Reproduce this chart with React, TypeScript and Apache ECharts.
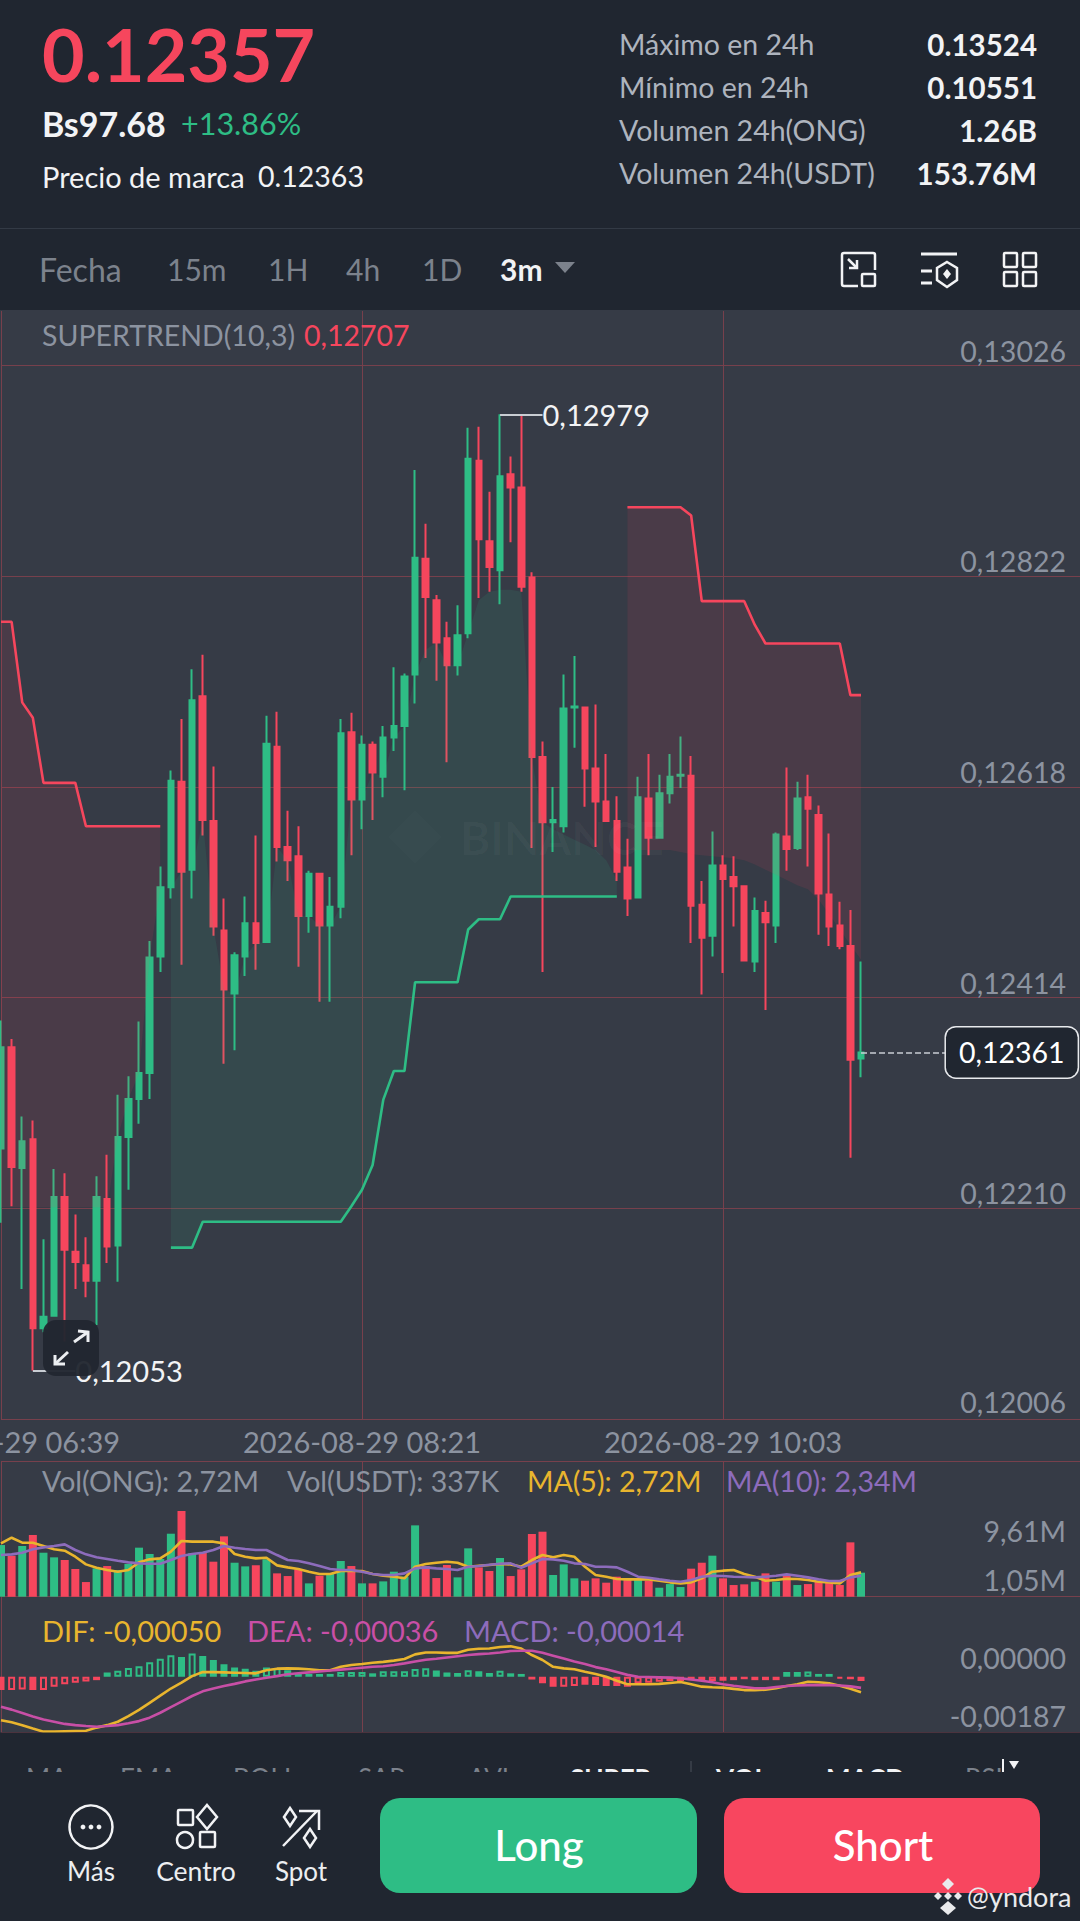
import React, { useEffect, useRef } from "react";
import * as echarts from "echarts";

const FONT = "Lato";
const UP = "#2EBD85";
const DOWN = "#F6465D";
const GRIDLINE = "#77404c";
const HEAD_BG = "#202630";
const PANEL_BG = "#363b46";
const GREY = "#8c93a0";

const CANDLE_COUNT = 103;
const SCALE = 1e5;

const timeLabels = ["2026-08-29 06:39", "2026-08-29 08:21", "2026-08-29 10:03"];
const priceTicks = [12006, 12210, 12414, 12618, 12822, 13026];
const volumeTicks = [1.05, 9.61];
const macdTicks = [-187, 0];

// prices in 0.00001 units
const opens = [12268,12366,12249,12277,12094,12106,12221,12168,12155,12140,12219,12174,12279,12316,12341,12454,12521,12623,12538,12706,12585,12479,12418,12454,12486,12468,12657,12560,12551,12493,12534,12484,12502,12671,12606,12659,12628,12666,12677,12727,12839,12799,12762,12736,12767,12934,12856,12828,12921,12908,12821,12647,12584,12580,12695,12695,12636,12604,12585,12540,12511,12607,12569,12612,12629,12629,12504,12474,12542,12531,12522,12449,12496,12484,12570,12559,12608,12591,12514,12484,12464,12355];
const closes = [12366,12250,12275,12094,12105,12221,12170,12158,12140,12221,12173,12279,12316,12341,12453,12521,12624,12536,12702,12586,12483,12422,12455,12486,12467,12660,12560,12547,12493,12534,12484,12502,12670,12606,12659,12632,12666,12677,12725,12840,12802,12758,12736,12765,12936,12858,12831,12919,12908,12812,12647,12584,12586,12694,12696,12636,12604,12585,12536,12510,12608,12569,12612,12628,12630,12503,12472,12542,12529,12522,12450,12498,12487,12572,12558,12607,12597,12515,12483,12464,12354,12361];
const lows = [12196,12212,12132,12053,12090,12105,12081,12132,12124,12097,12157,12139,12228,12292,12316,12439,12510,12446,12510,12571,12474,12350,12363,12435,12441,12468,12546,12527,12444,12477,12410,12410,12491,12552,12577,12586,12608,12653,12615,12699,12743,12721,12642,12726,12762,12801,12807,12795,12855,12807,12559,12439,12555,12574,12656,12599,12560,12585,12527,12493,12511,12552,12569,12602,12617,12467,12417,12454,12438,12483,12449,12439,12402,12467,12537,12557,12541,12475,12464,12461,12259,12337];
const highs = [12392,12374,12299,12295,12180,12248,12244,12204,12182,12241,12262,12320,12338,12391,12469,12541,12634,12684,12732,12746,12638,12510,12458,12512,12571,12687,12691,12595,12580,12537,12534,12531,12684,12690,12668,12662,12677,12734,12728,12925,12873,12804,12778,12794,12966,12967,12904,12979,12938,12978,12826,12662,12618,12727,12745,12695,12698,12650,12609,12568,12628,12650,12630,12650,12667,12648,12527,12575,12552,12551,12522,12511,12508,12574,12637,12623,12630,12600,12573,12507,12499,12449];

// supertrend pieces, starting at candle 0, 16 and 59
const bearTrendLeft = [12778,12778,12700,12685,12622,12622,12622,12622,12580,12580,12580,12580,12580,12580,12580,12580];
const bullTrend = [12172,12172,12172,12197,12197,12197,12197,12197,12197,12197,12197,12197,12197,12197,12197,12197,12197,12212,12228,12252,12315,12343,12343,12429,12429,12429,12429,12429,12480,12490,12490,12490,12512,12512,12512,12512,12512,12512,12512,12512,12512,12512,12512];
const bearTrendRight = [12889,12889,12889,12889,12889,12889,12881,12798,12798,12798,12798,12798,12775,12757,12757,12757,12757,12757,12757,12757,12757,12707,12707];
// the other edge of each shaded band
const bearEdgeLeft = [12211,12211,12211,12211,12211,12211,12211,12211,12211,12211,12211,12279,12316,12341,12453,12521];
const bullEdge = [12521,12536,12538,12586,12483,12422,12418,12454,12467,12468,12560,12547,12493,12493,12484,12484,12502,12606,12606,12632,12628,12666,12677,12727,12751,12758,12736,12736,12767,12799,12807,12809,12809,12807,12647,12584,12577,12572,12567,12562,12557,12547,12528];
const bearEdgeRight = [12557,12557,12557,12557,12557,12555,12553,12552,12551,12550,12549,12547,12543,12538,12533,12528,12523,12519,12509,12495,12480,12465,12451];

const volumes = [9.03,7.17,8.86,10.78,7.69,6.88,6.41,4.84,2.56,4.95,5.36,4.66,5.71,8.57,7.46,6.59,11.01,14.98,7.58,7.75,6.12,10.55,5.94,5.3,5.48,6.53,4.08,3.61,4.78,2.33,3.67,4.08,6.24,5.36,2.33,2.33,2.68,4.37,3.5,12.47,5.36,3.26,5.54,3.38,8.45,5.13,4.49,6.76,3.61,4.78,10.96,11.36,3.79,5.65,3.21,2.8,3.21,2.45,3.5,2.91,2.91,2.8,1.57,2.21,1.69,4.9,5.94,7.17,3.21,2.04,2.16,2.62,4.08,2.62,3.79,2.04,2.21,2.62,2.62,2.04,9.5,4.2];
const ma5 = [9.32,10.31,9.44,9.44,8.86,8.28,8.04,6.99,5.65,5.07,4.66,4.37,4.66,6,6.53,6.7,7.87,9.73,9.62,9.62,9.62,9.32,7.46,6.99,6.7,6.82,5.48,5.13,4.84,4.37,3.96,3.96,4.49,4.49,4.49,3.96,3.67,3.5,3.21,5.24,5.71,5.94,6.12,5.94,5.24,5.42,5.54,5.71,5.65,5.24,6.41,7.28,6.88,7.28,6.99,5.24,3.79,3.5,3.09,3.03,3.03,3.03,2.8,2.51,2.33,2.51,3.21,4.37,4.55,4.66,3.96,3.5,2.8,2.91,3.15,3.09,2.91,2.62,2.51,2.33,3.79,4.25];
const ma10 = [7.28,7.4,7.69,8.28,8.62,8.86,9.15,8.16,7.4,6.88,6.59,6.29,6,5.83,5.77,5.77,6.41,7.11,7.46,7.69,8.16,8.86,8.57,8.33,8.16,8.16,7.28,6.41,6.24,5.83,5.36,4.84,4.66,4.66,4.37,3.96,3.79,3.79,4.08,4.95,5.13,4.95,4.84,4.66,5.24,5.36,5.59,5.77,5.83,5.07,5.83,6.59,6.53,6.29,5.83,5.71,5.24,5.24,5.13,4.37,3.5,3.32,3.03,2.8,2.62,2.91,3.5,3.67,3.61,3.5,3.44,3.38,3.5,3.67,3.9,3.67,3.38,3.03,2.74,2.74,3.38,3.67];

// MACD values in 0.00001 units
const dif = [-140,-147,-156,-167,-177,-177,-176,-175,-174,-164,-156,-145,-127,-107,-84,-61,-38,-19,2,15,15,14,13,12,11,21,26,27,26,24,21,21,32,38,41,45,48,52,57,72,78,78,77,77,87,90,91,96,98,91,70,54,32,27,24,16,9,0,-13,-24,-24,-24,-23,-20,-17,-24,-32,-34,-35,-39,-43,-43,-42,-37,-30,-24,-16,-18,-21,-29,-39,-50];
const dea = [-97,-106,-117,-128,-138,-145,-152,-156,-159,-161,-159,-156,-150,-143,-132,-116,-98,-80,-62,-47,-38,-30,-23,-15,-9,-3,2,8,11,14,17,20,23,26,29,32,34,38,43,49,55,58,62,66,70,73,75,78,83,84,84,77,68,59,49,41,31,24,15,6,0,-1,-2,-3,-5,-9,-13,-18,-24,-29,-33,-37,-37,-33,-30,-28,-27,-27,-27,-28,-31,-36];
const macdHist = [-43,-43,-41,-43,-43,-32,-24,-19,-15,-11,14,19,28,34,47,58,69,64,75,67,54,40,30,26,19,30,27,21,11,9,9,9,15,15,15,11,18,18,18,25,27,20,14,12,21,18,12,19,11,9,-9,-21,-32,-32,-30,-26,-27,-30,-30,-32,-21,-19,-16,-14,-14,-11,-11,-14,-13,-11,-8,-11,-11,-11,15,15,17,9,9,-6,-8,-14];
const macdHollow = [0,1,1,0,1,1,1,1,1,0,0,1,1,1,1,1,1,0,1,0,0,0,0,0,0,1,1,0,0,0,0,0,1,1,1,0,1,1,1,1,1,0,0,0,1,0,0,1,0,0,0,0,0,1,1,0,0,0,0,1,1,1,1,1,1,0,0,1,1,1,0,1,0,0,0,0,1,0,0,0,0,0];

const pad = (head: number, arr: number[]) => [...Array(head).fill("-"), ...arr];
const px = (v: number) => v / SCALE;

function band(name: string, start: number, lower: number[], upper: number[], color: string) {
  const stack = "band-" + name;
  return [
    {
      type: "line", name: stack + "-base", stack, xAxisIndex: 0, yAxisIndex: 0, z: 3,
      data: pad(start, lower.map(px)), symbol: "none", lineStyle: { opacity: 0, width: 0 },
    },
    {
      type: "line", name: stack + "-fill", stack, xAxisIndex: 0, yAxisIndex: 0, z: 3,
      data: pad(start, upper.map((u, i) => (u - lower[i]) / SCALE)), symbol: "none",
      lineStyle: { opacity: 0, width: 0 }, areaStyle: { color, opacity: 1 },
    },
  ];
}

function trendLine(start: number, values: number[], color: string) {
  return {
    type: "line", xAxisIndex: 0, yAxisIndex: 0, z: 4, symbol: "none",
    data: pad(start, values.map(px)), lineStyle: { color, width: 2.6 },
  };
}

function simpleLine(x: number, y: number, data: number[], color: string, w = 2.6) {
  return {
    type: "line", xAxisIndex: x, yAxisIndex: y, z: 5, symbol: "none", data,
    lineStyle: { color, width: w },
  };
}

const T = (x: number, y: number, text: string, size: number, fill: string, weight = 400, align = "left", z = 101) => ({
  type: "text", x, y, z, silent: true,
  style: { text, fill, fontSize: size, fontWeight: weight, fontFamily: FONT, align, verticalAlign: "middle" },
});
const R = (x: number, y: number, width: number, height: number, style: any, r = 0, z = 101) => ({
  type: "rect", z, silent: true, shape: { x, y, width, height, r }, style,
});
const L = (x1: number, y1: number, x2: number, y2: number, stroke = "#f2f3f5", lineWidth = 2.5, z = 104) => ({
  type: "line", z, silent: true, shape: { x1, y1, x2, y2 }, style: { stroke, lineWidth },
});
const P = (points: number[][], style: any, z = 104, kind = "polygon") => ({
  type: kind, z, silent: true, shape: { points }, style,
});
const strokeW = { stroke: "#f2f3f5", lineWidth: 2.5, fill: "none" };

function diamond(cx: number, cy: number, rx: number, ry: number, style: any, z = 104) {
  return P([[cx, cy - ry], [cx + rx, cy], [cx, cy + ry], [cx - rx, cy]], style, z);
}

function pageElements() {
  const white = "#f2f3f5";
  const headGrey = "#aeb4be";
  const tab = "#7c828c";
  const legend = 28.5;
  return [
    R(0, 0, 1080, 310, { fill: HEAD_BG }, 0, 100),
    L(0, 228.5, 1080, 228.5, "#333a45", 1, 101),
    T(42, 53, "0.12357", 73.5, "#F6465D", 700),
    T(42, 123, "Bs97.68", 34, white, 700),
    T(181, 123, "+13.86%", 30.5, UP, 400),
    T(42, 176, "Precio de marca", 29, white),
    T(258, 176, "0.12363", 28.5, white),
    T(619, 44, "Máximo en 24h", 28.5, headGrey),
    T(619, 87, "Mínimo en 24h", 28.5, headGrey),
    T(619, 130, "Volumen 24h(ONG)", 28.5, headGrey),
    T(619, 173, "Volumen 24h(USDT)", 28.5, headGrey),
    T(1037, 44, "0.13524", 29.5, white, 700, "right"),
    T(1037, 87, "0.10551", 29.5, white, 700, "right"),
    T(1037, 130, "1.26B", 29.5, white, 700, "right"),
    T(1037, 173, "153.76M", 29.5, white, 700, "right"),
    T(39, 269, "Fecha", 32, tab),
    T(167, 269, "15m", 30, tab),
    T(268, 269, "1H", 30, tab),
    T(346, 269, "4h", 30, tab),
    T(422, 269, "1D", 30, tab),
    T(500, 269, "3m", 30, white, 700),
    P([[555, 262], [575, 262], [565, 273]], { fill: "#7c828c" }, 101),
    // toolbar icons
    R(842, 253, 33, 33, { fill: "none", stroke: white, lineWidth: 2.5 }, 2, 101),
    R(858, 270, 20, 19, { fill: HEAD_BG }, 0, 102),
    R(862, 274, 13, 12, { fill: "none", stroke: white, lineWidth: 2.5 }, 1, 103),
    L(848, 259, 857, 268, white, 2.5),
    P([[857, 260], [857, 268], [849, 268]], { fill: "none", stroke: white, lineWidth: 2.5 }, 104, "polyline"),
    L(921, 254, 957, 254, white, 3),
    L(921, 271, 932, 271, white, 3),
    L(921, 283, 932, 283, white, 3),
    P([[947, 262], [957, 268], [957, 280], [947, 287], [937, 280], [937, 268]], strokeW),
    diamond(947, 274, 4, 5, { fill: white }),
    R(1004, 253, 13, 14, strokeW, 1, 104),
    R(1023, 253, 13, 14, strokeW, 1, 104),
    R(1004, 272, 13, 14, strokeW, 1, 104),
    R(1023, 272, 13, 14, strokeW, 1, 104),

    // legends
    T(42, 335, "SUPERTREND(10,3)", legend, GREY, 400, "left", 20),
    T(304, 335, "0,12707", legend, "#F6465D", 400, "left", 20),
    T(42, 1481, "Vol(ONG): 2,72M", legend, GREY, 400, "left", 20),
    T(287, 1481, "Vol(USDT): 337K", legend, GREY, 400, "left", 20),
    T(527, 1481, "MA(5): 2,72M", legend, "#E9B52E", 400, "left", 20),
    T(726, 1481, "MA(10): 2,34M", legend, "#8D6CBC", 400, "left", 20),
    T(42, 1630, "DIF: -0,00050", 29, "#E9B52E", 400, "left", 20),
    T(247, 1630, "DEA: -0,00036", 29, "#C84FA6", 400, "left", 20),
    T(464, 1630, "MACD: -0,00014", 29, "#8D6CBC", 400, "left", 20),

    // faint exchange watermark
    diamond(415, 837, 27, 27, { fill: "rgba(255,255,255,0.012)" }, 21),
    T(460, 837, "BINANCE", 46, "rgba(255,255,255,0.03)", 700, "left", 21),

    // expand button
    R(43, 1320, 56, 56, { fill: "rgba(33,39,48,0.96)" }, 13, 30),
    L(74, 1342, 88, 1332, "#eceef1", 3, 31),
    P([[78, 1331], [88, 1332], [88, 1342]], { fill: "none", stroke: "#eceef1", lineWidth: 3 }, 31, "polyline"),
    L(55, 1364, 68, 1352, "#eceef1", 3, 31),
    P([[55, 1355], [55, 1364], [65, 1364]], { fill: "none", stroke: "#eceef1", lineWidth: 3 }, 31, "polyline"),

    // bottom area
    R(0, 1732.5, 1080, 189, { fill: HEAD_BG }, 0, 100),
    T(26, 1778, "MA", 26, tab),
    T(120, 1778, "EMA", 26, tab),
    T(233, 1778, "BOLL", 26, tab),
    T(358, 1778, "SAR", 26, tab),
    T(468, 1778, "AVL", 26, tab),
    T(570, 1778, "SUPER", 26, white, 700),
    T(716, 1778, "VOL", 26, white, 700),
    T(826, 1778, "MACD", 26, white, 700),
    T(965, 1778, "RSI", 26, tab),
    L(691, 1761, 691, 1773, "#4b515b", 1, 101),
    R(0, 1772, 1080, 149, { fill: HEAD_BG }, 0, 102),
    L(1003, 1759, 1003, 1772, white, 2),
    P([[1009, 1761], [1019, 1761], [1014, 1769]], { fill: white }),
    { type: "circle", z: 104, silent: true, shape: { cx: 91, cy: 1827, r: 21.5 }, style: strokeW },
    { type: "circle", z: 104, silent: true, shape: { cx: 83, cy: 1827, r: 2.4 }, style: { fill: white } },
    { type: "circle", z: 104, silent: true, shape: { cx: 91, cy: 1827, r: 2.4 }, style: { fill: white } },
    { type: "circle", z: 104, silent: true, shape: { cx: 99, cy: 1827, r: 2.4 }, style: { fill: white } },
    R(178, 1810, 15, 15, strokeW, 1, 104),
    diamond(207, 1817, 10, 12, strokeW),
    { type: "circle", z: 104, silent: true, shape: { cx: 185, cy: 1840, r: 8 }, style: strokeW },
    R(200, 1832, 15, 15, strokeW, 1, 104),
    diamond(290, 1817, 6, 9, strokeW),
    diamond(310, 1838, 6, 9, strokeW),
    L(283, 1846, 317, 1811, white, 2.5),
    P([[299, 1811], [319, 1811], [319, 1830]], strokeW, 104, "polyline"),
    T(91, 1871, "Más", 26, "#eceef1", 400, "center", 104),
    T(196, 1871, "Centro", 26.5, "#eceef1", 400, "center", 104),
    T(301, 1871, "Spot", 26, "#eceef1", 400, "center", 104),
    R(380, 1798, 317, 95, { fill: UP }, 20, 104),
    R(724, 1798, 316, 95, { fill: "#F8465F" }, 20, 104),
    T(539, 1845, "Long", 42, "#ffffff", 500, "center", 105),
    T(883, 1845, "Short", 42, "#ffffff", 500, "center", 105),
    diamond(948, 1884, 6, 6, { fill: "#e9eaec" }, 106),
    diamond(948, 1908, 8, 7, { fill: "#e9eaec" }, 106),
    diamond(938, 1896, 4, 4, { fill: "#e9eaec" }, 106),
    diamond(958, 1896, 4, 4, { fill: "#e9eaec" }, 106),
    diamond(948, 1896, 4, 4, { fill: "#e9eaec" }, 106),
    T(967, 1896, "@", 26, "#e9eaec", 400, "left", 106),
    T(989, 1896, "yndora", 27, "#e9eaec", 400, "left", 106),
  ];
}

export default function App() {
  const ref = useRef<HTMLDivElement>(null);
  useEffect(() => {
    document.body.style.margin = "0";
    document.body.style.background = PANEL_BG;
    const chart = echarts.init(ref.current!, undefined, { renderer: "svg" });

    const categories = Array.from({ length: CANDLE_COUNT }, (_, i) => {
      const slot = timeLabels[i / 34];
      return slot !== undefined ? slot : "c" + i;
    });
    const vertical = (i: number) => i % 34 === 0 && i / 34 < timeLabels.length;
    const splitX = { show: true, interval: vertical, lineStyle: { color: GRIDLINE, width: 1 } };
    const xAxisBase = {
      type: "category", data: categories, boundaryGap: false,
      axisLine: { show: false }, axisTick: { show: false }, splitLine: splitX,
    };
    const grids = [
      { left: 1, width: 1083, top: 311, height: 1108, outerBoundsMode: "none" },
      { left: 1, width: 1083, top: 1461, height: 135.7, outerBoundsMode: "none" },
      { left: 1, width: 1083, top: 1597, height: 139, outerBoundsMode: "none" },
    ];
    const ySplit = { show: true, lineStyle: { color: GRIDLINE, width: 1 } };
    const volMax = 23.72;
    const macdMax = 0.00257;
    const macdMin = -0.00191;

    chart.setOption({
      animation: false,
      backgroundColor: PANEL_BG,
      textStyle: { fontFamily: FONT },
      tooltip: { show: false },
      grid: grids,
      xAxis: [
        {
          ...xAxisBase, gridIndex: 0,
          axisLabel: {
            show: true, interval: vertical, color: GREY, fontSize: 29, margin: 8, hideOverlap: false,
            formatter: (v: string) => v,
          },
        },
        { ...xAxisBase, gridIndex: 1, axisLabel: { show: false } },
        { ...xAxisBase, gridIndex: 2, axisLabel: { show: false } },
      ],
      yAxis: [
        {
          type: "value", gridIndex: 0, position: "right", min: 0.12006, max: 0.13079, scale: true,
          axisLine: { show: false },
          axisTick: { show: false, customValues: priceTicks.map(px) },
          splitLine: ySplit,
          axisLabel: {
            inside: true, margin: 18, color: GREY, fontSize: 28.5, lineHeight: 24, verticalAlign: "bottom",
            padding: [0, 0, 3, 0], customValues: priceTicks.map(px),
            formatter: (v: number) => {
              const s = v.toFixed(5).replace(".", ",");
              return v < 0.1201 ? `{low|${s}}` : s;
            },
            rich: { low: { color: GREY, fontSize: 28.5, lineHeight: 24, padding: [0, 0, 4, 0] } },
          },
        },
        {
          type: "value", gridIndex: 1, position: "right", min: 0, max: volMax,
          axisLine: { show: false },
          axisTick: { show: false, customValues: [0, volMax] },
          splitLine: ySplit,
          axisLabel: {
            inside: true, margin: 18, color: GREY, fontSize: 28.5, lineHeight: 20, verticalAlign: "bottom",
            padding: [0, 0, 1, 0], customValues: volumeTicks,
            formatter: (v: number) => v.toFixed(2).replace(".", ",") + "M",
          },
        },
        {
          type: "value", gridIndex: 2, position: "right", min: macdMin, max: macdMax,
          axisLine: { show: false },
          axisTick: { show: false, customValues: [-0.00178] },
          splitLine: ySplit,
          axisLabel: {
            inside: true, margin: 18, color: GREY, fontSize: 28.5, lineHeight: 24, verticalAlign: "bottom",
            padding: [0, 0, 7, 0], customValues: macdTicks.map(px),
            formatter: (v: number) => v.toFixed(5).replace(".", ","),
          },
        },
      ],
      series: [
        {
          type: "candlestick", xAxisIndex: 0, yAxisIndex: 0, z: 2, clip: false, barWidth: 6,
          data: opens.map((o, i) => [px(o), px(closes[i]), px(lows[i]), px(highs[i])]),
          itemStyle: { color: UP, color0: DOWN, borderColor: UP, borderColor0: DOWN, borderWidth: 2 },
          markLine: {
            silent: true, symbol: "none", animation: false, precision: 6,
            lineStyle: { color: "#c9cdd3", width: 2, type: "solid" },
            data: [
              [
                { coord: [47, px(12979)], label: { show: true, position: "end", distance: 0, formatter: "0,12979", color: "#f2f3f5", fontSize: 29 } },
                { coord: [50.7, px(12979)] },
              ],
              [
                { coord: [3, px(12053)], label: { show: true, position: "end", distance: 0, formatter: "0,12053", color: "#f2f3f5", fontSize: 29 } },
                { coord: [6.7, px(12053)] },
              ],
              [
                {
                  coord: [81.4, px(12361)], lineStyle: { color: "#c9cdd3", width: 1.5, type: "dashed" },
                  label: {
                    show: true, position: "end", distance: 0, formatter: "0,12361", color: "#ffffff", fontSize: 28.5,
                    backgroundColor: HEAD_BG, borderColor: "#e8eaed", borderWidth: 1.5, borderRadius: 10, padding: [11, 13, 10, 13],
                  },
                },
                { coord: [89.2, px(12361)] },
              ],
            ],
          },
        },
        ...band("left", 0, bearEdgeLeft, bearTrendLeft, "rgba(246,70,93,0.105)"),
        ...band("mid", 16, bullTrend, bullEdge, "rgba(46,189,133,0.11)"),
        ...band("right", 59, bearEdgeRight, bearTrendRight, "rgba(246,70,93,0.105)"),
        trendLine(0, bearTrendLeft, "#F6465D"),
        trendLine(16, bullTrend, UP),
        trendLine(59, bearTrendRight, "#F6465D"),
        {
          type: "bar", xAxisIndex: 1, yAxisIndex: 1, barWidth: 8, clip: false, z: 2,
          data: volumes.map((v, i) => ({
            value: v,
            itemStyle: { color: closes[i] >= opens[i] ? UP : DOWN },
          })),
        },
        simpleLine(1, 1, ma5, "#E9B52E"),
        simpleLine(1, 1, ma10, "#8D6CBC"),
        {
          type: "bar", xAxisIndex: 2, yAxisIndex: 2, barWidth: 7, clip: false, z: 2,
          data: macdHist.map((v, i) => {
            const c = v >= 0 ? UP : DOWN;
            return {
              value: px(v),
              itemStyle: { color: macdHollow[i] ? "transparent" : c, borderColor: c, borderWidth: 2 },
            };
          }),
        },
        simpleLine(2, 2, dif.map(px), "#E9B52E"),
        simpleLine(2, 2, dea.map(px), "#C84FA6"),
      ],
      graphic: { elements: pageElements() },
    });
    return () => chart.dispose();
  }, []);
  return <div ref={ref} style={{ width: 1080, height: 1921, position: "absolute", left: 0, top: 0 }} />;
}
